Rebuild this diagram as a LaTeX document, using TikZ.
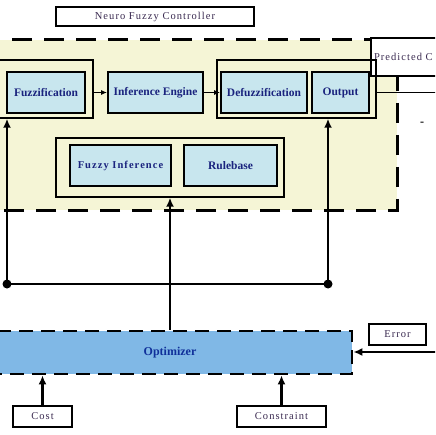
\documentclass[tikz,border=0pt]{standalone}
\usepackage{fontspec}
\setmainfont{Liberation Serif}
\newfontfamily\labfont[LetterSpace=10]{Liberation Serif}
\usetikzlibrary{arrows.meta}
\definecolor{yel}{HTML}{F5F5D6}
\definecolor{lblue}{HTML}{C8E6EE}
\definecolor{optblue}{HTML}{80B8E6}
\definecolor{navy}{HTML}{1A237E}
\definecolor{optnavy}{HTML}{10309A}
\definecolor{labcol}{HTML}{3A2A50}
\tikzset{
  grp/.style={draw=black, line width=1.5pt, fill=none, rectangle, inner sep=0},
  blk/.style={draw=black, line width=1.8pt, fill=lblue, rectangle, inner sep=0, minimum height=41pt, text=navy, font=\fontsize{11.5}{13}\selectfont\bfseries},
  lab/.style={draw=black, line width=1.3pt, fill=white, rectangle, inner sep=0, minimum height=21pt, text=labcol, font=\labfont\fontsize{10.5}{12}\selectfont},
  wire/.style={line width=2.5pt, black},
  arr/.style={wire, -{Latex[length=9pt,width=8pt]}},
  sarr/.style={line width=1.3pt, -{Latex[length=6pt,width=5pt]}},
  dot/.style={circle, fill=black, inner sep=0, minimum size=9pt}
}
\begin{document}
\begin{tikzpicture}[x=1pt,y=-1pt]
\useasboundingbox (0,0) rectangle (435,435);
\clip (0,0) rectangle (435,435);
% yellow region
\fill[yel] (-20,40) rectangle (397,210);
\draw[line width=3pt, dash pattern=on 20pt off 12pt] (-20,40) -- (397,40) -- (397,210) -- (-20,210);
% title
\node[lab, minimum width=198pt, minimum height=19pt] (title) at (155,16.5) {Neuro Fuzzy Controller};
% predicted box
\node[lab, minimum width=89pt, minimum height=38pt, text width=83pt, align=left] (pred) at (415.5,57) {Predicted C};
% groups
\node[grp, minimum width=103pt, minimum height=58pt] (LG) at (41.5,89) {};
\node[grp, minimum width=159pt, minimum height=58pt] (RG) at (296.5,89) {};
\node[grp, minimum width=228pt, minimum height=59pt] (BG) at (170,167.5) {};
% blocks
\node[blk, minimum width=78pt] (fuz) at (46,92.5) {Fuzzification};
\node[blk, minimum width=95pt] (inf) at (155.5,92.5) {Inference Engine};
\node[blk, minimum width=86pt] (def) at (264,92.5) {Defuzzification};
\node[blk, minimum width=57pt] (out) at (340.5,92.5) {Output};
\node[blk, minimum width=101pt, font=\labfont\fontsize{10.5}{12}\selectfont\bfseries] (fin) at (120.5,165.5) {Fuzzy Inference};
\node[blk, minimum width=93pt] (rule) at (230.5,165.5) {Rulebase};
% arrows between blocks
\draw[sarr] (LG.east |- fuz.east) -- (inf.west);
\draw[sarr] (inf.east) -- (def.west);
\coordinate (outend) at (440,92.5);
\draw[line width=1.3pt] (RG.east |- out.east) -- (outend);
\node[font=\fontsize{12}{13}\selectfont\bfseries] (minus) at (422,124) {-};
% optimizer
\node[draw=black, fill=optblue, line width=2.8pt, dash pattern=on 14pt off 8pt, minimum width=364pt, minimum height=43pt, inner sep=0, text=optnavy, font=\fontsize{12}{14}\selectfont\bfseries] (opt) at (170,352.5) {Optimizer};
\node[lab, minimum width=57pt] (err) at (397.5,334.5) {Error};
\node[lab, minimum width=59pt] (cost) at (42.5,416.5) {Cost};
\node[lab, minimum width=89pt] (con) at (281.5,416.5) {Constraint};
\coordinate (errin) at (440,352);
\draw[arr] (errin) -- (errin -| opt.east);
\draw[arr] (cost.north) -- (cost.north |- opt.south);
\draw[arr] (con.north) -- (con.north |- opt.south);
% feedback wires
\node[dot] (dl) at (7,284) {};
\node[dot] (dr) at (328,284) {};
\draw[wire] (dl.center) -- (dr.center);
\draw[arr] (dl.center) -- (dl.center |- LG.south);
\draw[arr] (dr.center) -- (dr.center |- RG.south);
\draw[arr] (opt.north -| BG.south) -- (BG.south);
\end{tikzpicture}
\end{document}
